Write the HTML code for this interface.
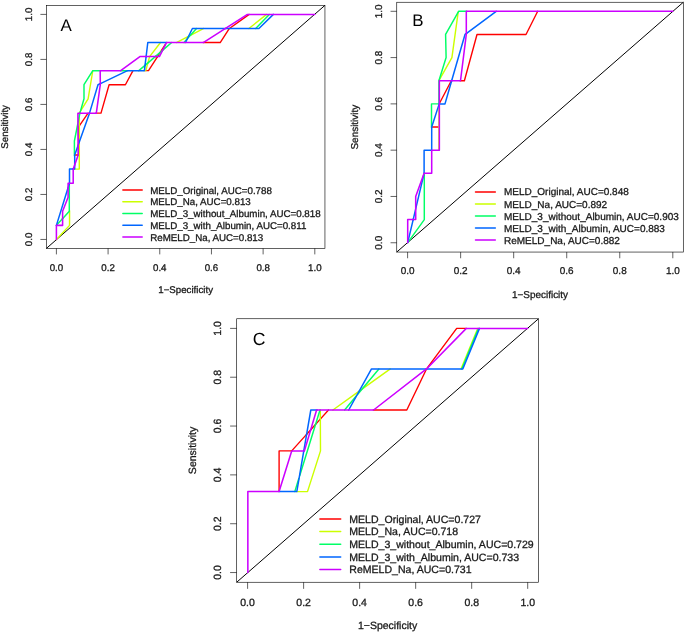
<!DOCTYPE html>
<html lang="en">
<head>
<meta charset="utf-8">
<title>ROC curves</title>
<style>
html,body{margin:0;padding:0;background:#fff;}
body{width:685px;height:634px;overflow:hidden;}
svg text{stroke:#1a1a1a;stroke-width:0.3px;}
svg text.big{stroke:none;}
svg{display:block;text-rendering:geometricPrecision;font-family:"Liberation Sans",sans-serif;}
</style>
</head>
<body>
<svg width="685" height="634" viewBox="0 0 685 634">
<rect width="685" height="634" fill="#fff"/>
<g font-size="9.7" fill="#1a1a1a">
<line x1="46.4" y1="248.4" x2="324.95" y2="5.35" stroke="#000" stroke-width="1"/>
<polyline points="74.7,155.06 78.5,155.06" fill="none" stroke="#FF0000" stroke-width="1.38" stroke-linejoin="round" stroke-linecap="round"/>
<polyline points="78.5,155.06 78.5,144.45" fill="none" stroke="#FF0000" stroke-width="1.38" stroke-linejoin="round" stroke-linecap="round"/>
<polyline points="78.5,144.26 78.5,126.92 79.44,125.58" fill="none" stroke="#FF0000" stroke-width="1.38" stroke-linejoin="round" stroke-linecap="round"/>
<polyline points="79.11,126.04 88.1,113.15" fill="none" stroke="#FF0000" stroke-width="1.38" stroke-linejoin="round" stroke-linecap="round"/>
<polyline points="95.88,113.15 101,113.15 109.1,84.73 125.4,84.73 133,70.66" fill="none" stroke="#FF0000" stroke-width="1.38" stroke-linejoin="round" stroke-linecap="round"/>
<polyline points="145.35,70.66 148.5,70.66 157.72,56.26" fill="none" stroke="#FF0000" stroke-width="1.38" stroke-linejoin="round" stroke-linecap="round"/>
<polyline points="157.28,56.94 160.13,52.48" fill="none" stroke="#FF0000" stroke-width="1.38" stroke-linejoin="round" stroke-linecap="round"/>
<polyline points="160.37,52.11 165.37,44.29" fill="none" stroke="#FF0000" stroke-width="1.38" stroke-linejoin="round" stroke-linecap="round"/>
<polyline points="203.07,42.53 220.2,42.53 229.4,28.47" fill="none" stroke="#FF0000" stroke-width="1.38" stroke-linejoin="round" stroke-linecap="round"/>
<polyline points="229.4,28.47 249.2,14.4" fill="none" stroke="#FF0000" stroke-width="1.38" stroke-linejoin="round" stroke-linecap="round"/>
<polyline points="56.4,239.45 69.55,225.38 69.55,210.79" fill="none" stroke="#CCFF00" stroke-width="1.42" stroke-linejoin="round" stroke-linecap="round"/>
<polyline points="74.15,169.12 79.3,169.12 79.3,142.23" fill="none" stroke="#CCFF00" stroke-width="1.42" stroke-linejoin="round" stroke-linecap="round"/>
<polyline points="79.3,141.79 79.3,117" fill="none" stroke="#CCFF00" stroke-width="1.42" stroke-linejoin="round" stroke-linecap="round"/>
<polyline points="79.3,115.3 79.3,113.15" fill="none" stroke="#CCFF00" stroke-width="1.42" stroke-linejoin="round" stroke-linecap="round"/>
<polyline points="79.3,113.15 80.29,111.54" fill="none" stroke="#CCFF00" stroke-width="1.42" stroke-linejoin="round" stroke-linecap="round"/>
<polyline points="80.64,110.96 88.1,98.79 92.78,70.75" fill="none" stroke="#CCFF00" stroke-width="1.42" stroke-linejoin="round" stroke-linecap="round"/>
<polyline points="143.9,70.66 145.8,70.66 147.97,62.64" fill="none" stroke="#CCFF00" stroke-width="1.42" stroke-linejoin="round" stroke-linecap="round"/>
<polyline points="147.82,63.19 149.6,56.6" fill="none" stroke="#CCFF00" stroke-width="1.42" stroke-linejoin="round" stroke-linecap="round"/>
<polyline points="149.6,56.6 160.5,42.53" fill="none" stroke="#CCFF00" stroke-width="1.42" stroke-linejoin="round" stroke-linecap="round"/>
<polyline points="176.4,42.53 188.91,36.11" fill="none" stroke="#CCFF00" stroke-width="1.42" stroke-linejoin="round" stroke-linecap="round"/>
<polyline points="190.4,35.34 203.8,28.47" fill="none" stroke="#CCFF00" stroke-width="1.42" stroke-linejoin="round" stroke-linecap="round"/>
<polyline points="248.9,28.47 266.6,14.4" fill="none" stroke="#CCFF00" stroke-width="1.42" stroke-linejoin="round" stroke-linecap="round"/>
<polyline points="56.4,225.38 62.87,218.33" fill="none" stroke="#00FF66" stroke-width="1.46" stroke-linejoin="round" stroke-linecap="round"/>
<polyline points="62.33,218.92 69.3,211.32 69.3,183.95" fill="none" stroke="#00FF66" stroke-width="1.46" stroke-linejoin="round" stroke-linecap="round"/>
<polyline points="74.4,155.83 74.4,140.99 77.81,123.75" fill="none" stroke="#00FF66" stroke-width="1.46" stroke-linejoin="round" stroke-linecap="round"/>
<polyline points="78.09,122.34 79.9,113.15" fill="none" stroke="#00FF66" stroke-width="1.46" stroke-linejoin="round" stroke-linecap="round"/>
<polyline points="79.9,113.15 84,98.79 84,84.73 92.8,70.66 100.66,70.66" fill="none" stroke="#00FF66" stroke-width="1.46" stroke-linejoin="round" stroke-linecap="round"/>
<polyline points="120.49,70.66 127.52,70.66" fill="none" stroke="#00FF66" stroke-width="1.46" stroke-linejoin="round" stroke-linecap="round"/>
<polyline points="138.8,70.66 145.35,65.07" fill="none" stroke="#00FF66" stroke-width="1.46" stroke-linejoin="round" stroke-linecap="round"/>
<polyline points="144.73,65.59 155.56,56.34" fill="none" stroke="#00FF66" stroke-width="1.46" stroke-linejoin="round" stroke-linecap="round"/>
<polyline points="154.94,56.86 162.55,50.35" fill="none" stroke="#00FF66" stroke-width="1.46" stroke-linejoin="round" stroke-linecap="round"/>
<polyline points="162.51,50.39 171.7,42.53" fill="none" stroke="#00FF66" stroke-width="1.46" stroke-linejoin="round" stroke-linecap="round"/>
<polyline points="184,42.53 187.06,39.08" fill="none" stroke="#00FF66" stroke-width="1.46" stroke-linejoin="round" stroke-linecap="round"/>
<polyline points="187.51,38.58 196.5,28.47" fill="none" stroke="#00FF66" stroke-width="1.46" stroke-linejoin="round" stroke-linecap="round"/>
<polyline points="255.7,28.47 269.3,14.4" fill="none" stroke="#00FF66" stroke-width="1.46" stroke-linejoin="round" stroke-linecap="round"/>
<polyline points="56.4,225.38 68.06,187.81" fill="none" stroke="#0066FF" stroke-width="1.5" stroke-linejoin="round" stroke-linecap="round"/>
<polyline points="68.2,187.38 69.5,183.19" fill="none" stroke="#0066FF" stroke-width="1.5" stroke-linejoin="round" stroke-linecap="round"/>
<polyline points="69.5,183.19 69.5,169.12 73.62,169.12" fill="none" stroke="#0066FF" stroke-width="1.5" stroke-linejoin="round" stroke-linecap="round"/>
<polyline points="72.81,169.12 74.7,169.12 74.7,165.01" fill="none" stroke="#0066FF" stroke-width="1.5" stroke-linejoin="round" stroke-linecap="round"/>
<polyline points="74.7,164.84 74.7,155.06 78.08,145.5" fill="none" stroke="#0066FF" stroke-width="1.5" stroke-linejoin="round" stroke-linecap="round"/>
<polyline points="78.14,145.31 89.5,113.15" fill="none" stroke="#0066FF" stroke-width="1.5" stroke-linejoin="round" stroke-linecap="round"/>
<polyline points="89.5,113.15 98,84.73 100.61,83.48" fill="none" stroke="#0066FF" stroke-width="1.5" stroke-linejoin="round" stroke-linecap="round"/>
<polyline points="99.89,83.83 127.5,70.66 144.4,70.66 146.15,56.2" fill="none" stroke="#0066FF" stroke-width="1.5" stroke-linejoin="round" stroke-linecap="round"/>
<polyline points="146.05,57 147.8,42.53 166.93,42.53" fill="none" stroke="#0066FF" stroke-width="1.5" stroke-linejoin="round" stroke-linecap="round"/>
<polyline points="185.5,42.53 192.4,28.47 225.55,28.47" fill="none" stroke="#0066FF" stroke-width="1.5" stroke-linejoin="round" stroke-linecap="round"/>
<polyline points="225.25,28.47 258.9,28.47 273.4,14.4" fill="none" stroke="#0066FF" stroke-width="1.5" stroke-linejoin="round" stroke-linecap="round"/>
<polyline points="56.4,239.45 56.4,225.38 62.6,225.38 62.6,211.32 68.1,197.25 68.1,183.19 73.2,183.19 73.2,169.12 78.2,155.06 77.9,113.15 96.3,113.15 100.3,84.73 100.2,70.66 120.7,70.66 139.9,56.6 159.4,56.6 166.5,42.53 203.3,42.53 247.4,14.4 314.8,14.4" fill="none" stroke="#CC00FF" stroke-width="1.54" stroke-linejoin="round" stroke-linecap="round"/>
<rect x="46.4" y="5.35" width="278.55" height="243.05" fill="none" stroke="#000" stroke-width="0.62"/>
<path d="M56.4,248.4v6M46.4,239.45h-6M108.08,248.4v6M46.4,194.44h-6M159.76,248.4v6M46.4,149.43h-6M211.44,248.4v6M46.4,104.42h-6M263.12,248.4v6M46.4,59.41h-6M314.8,248.4v6M46.4,14.4h-6" fill="none" stroke="#000" stroke-width="0.62"/>
<text x="56.4" y="270.5" text-anchor="middle">0.0</text>
<text transform="translate(31.97,239.45) rotate(-90)" text-anchor="middle">0.0</text>
<text x="108.08" y="270.5" text-anchor="middle">0.2</text>
<text transform="translate(31.97,194.44) rotate(-90)" text-anchor="middle">0.2</text>
<text x="159.76" y="270.5" text-anchor="middle">0.4</text>
<text transform="translate(31.97,149.43) rotate(-90)" text-anchor="middle">0.4</text>
<text x="211.44" y="270.5" text-anchor="middle">0.6</text>
<text transform="translate(31.97,104.42) rotate(-90)" text-anchor="middle">0.6</text>
<text x="263.12" y="270.5" text-anchor="middle">0.8</text>
<text transform="translate(31.97,59.41) rotate(-90)" text-anchor="middle">0.8</text>
<text x="314.8" y="270.5" text-anchor="middle">1.0</text>
<text transform="translate(31.97,14.4) rotate(-90)" text-anchor="middle">1.0</text>
<text x="185.67" y="293.3" text-anchor="middle">1−Specificity</text>
<text transform="translate(8.4,126.88) rotate(-90)" text-anchor="middle">Sensitivity</text>
<line x1="122.9" y1="190.1" x2="142.2" y2="190.1" stroke="#FF0000" stroke-width="1.5" stroke-linecap="round"/>
<text x="150.2" y="193.57" font-size="9.75">MELD_Original, AUC=0.788</text>
<line x1="122.9" y1="201.85" x2="142.2" y2="201.85" stroke="#CCFF00" stroke-width="1.5" stroke-linecap="round"/>
<text x="150.2" y="205.32" font-size="9.75">MELD_Na, AUC=0.813</text>
<line x1="122.9" y1="213.6" x2="142.2" y2="213.6" stroke="#00FF66" stroke-width="1.5" stroke-linecap="round"/>
<text x="150.2" y="217.07" font-size="9.75">MELD_3_without_Albumin, AUC=0.818</text>
<line x1="122.9" y1="225.35" x2="142.2" y2="225.35" stroke="#0066FF" stroke-width="1.5" stroke-linecap="round"/>
<text x="150.2" y="228.82" font-size="9.75">MELD_3_with_Albumin, AUC=0.811</text>
<line x1="122.9" y1="237.1" x2="142.2" y2="237.1" stroke="#CC00FF" stroke-width="1.5" stroke-linecap="round"/>
<text x="150.2" y="240.57" font-size="9.75">ReMELD_Na, AUC=0.813</text>
<text x="66.2" y="31.1" font-size="16.9" text-anchor="middle" fill="#000" class="big">A</text>
</g>
<g font-size="9.95" fill="#1a1a1a">
<line x1="396.75" y1="252.05" x2="683.3" y2="2.25" stroke="#000" stroke-width="1"/>
<polyline points="431.7,127.03 439.2,127.03" fill="none" stroke="#FF0000" stroke-width="1.38" stroke-linejoin="round" stroke-linecap="round"/>
<polyline points="439.24,103.8 451.3,80.74" fill="none" stroke="#FF0000" stroke-width="1.38" stroke-linejoin="round" stroke-linecap="round"/>
<polyline points="460.04,80.74 464.4,80.74 477,34.45 526,34.45 537.7,11.3" fill="none" stroke="#FF0000" stroke-width="1.38" stroke-linejoin="round" stroke-linecap="round"/>
<polyline points="438.9,150.17 438.9,105.06" fill="none" stroke="#CCFF00" stroke-width="1.42" stroke-linejoin="round" stroke-linecap="round"/>
<polyline points="439.19,80.22 451.9,57.59 458.18,12.14" fill="none" stroke="#CCFF00" stroke-width="1.42" stroke-linejoin="round" stroke-linecap="round"/>
<polyline points="407.76,242.67 424.3,219.6 424.3,173" fill="none" stroke="#00FF66" stroke-width="1.46" stroke-linejoin="round" stroke-linecap="round"/>
<polyline points="431.5,127.43 431.5,103.88 438.9,103.88" fill="none" stroke="#00FF66" stroke-width="1.46" stroke-linejoin="round" stroke-linecap="round"/>
<polyline points="438.9,103.88 438.9,80.74 446.1,57.59 445.6,34.45 458.6,11.3 466.75,11.3" fill="none" stroke="#00FF66" stroke-width="1.46" stroke-linejoin="round" stroke-linecap="round"/>
<polyline points="407.84,242.17 413.3,219.05" fill="none" stroke="#0066FF" stroke-width="1.5" stroke-linejoin="round" stroke-linecap="round"/>
<polyline points="413.06,220.08 415.59,209.34" fill="none" stroke="#0066FF" stroke-width="1.5" stroke-linejoin="round" stroke-linecap="round"/>
<polyline points="415.81,208.42 423.68,175.11" fill="none" stroke="#0066FF" stroke-width="1.5" stroke-linejoin="round" stroke-linecap="round"/>
<polyline points="424.1,173.31 424.1,150.17 431.7,150.17" fill="none" stroke="#0066FF" stroke-width="1.5" stroke-linejoin="round" stroke-linecap="round"/>
<polyline points="431.7,150.17 431.7,127.03 439.2,103.88" fill="none" stroke="#0066FF" stroke-width="1.5" stroke-linejoin="round" stroke-linecap="round"/>
<polyline points="439.2,103.88 445,103.88 451.8,80.27" fill="none" stroke="#0066FF" stroke-width="1.5" stroke-linejoin="round" stroke-linecap="round"/>
<polyline points="451.51,81.28 465,34.45 466.72,33.17" fill="none" stroke="#0066FF" stroke-width="1.5" stroke-linejoin="round" stroke-linecap="round"/>
<polyline points="465.88,33.79 496.2,11.3" fill="none" stroke="#0066FF" stroke-width="1.5" stroke-linejoin="round" stroke-linecap="round"/>
<polyline points="407.7,242.75 407.7,219.6 415.7,219.6 415.7,196.46 424.1,173.31 431.7,173.31 431.7,150.17 439.35,150.17 439.35,80.74 460.5,80.74 466.3,34.45 466.3,11.3 672.8,11.3" fill="none" stroke="#CC00FF" stroke-width="1.54" stroke-linejoin="round" stroke-linecap="round"/>
<rect x="396.75" y="2.25" width="286.55" height="249.8" fill="none" stroke="#000" stroke-width="0.62"/>
<path d="M407.6,252.05v6.2M396.75,242.75h-6.2M460.64,252.05v6.2M396.75,196.46h-6.2M513.68,252.05v6.2M396.75,150.17h-6.2M566.72,252.05v6.2M396.75,103.88h-6.2M619.76,252.05v6.2M396.75,57.59h-6.2M672.8,252.05v6.2M396.75,11.3h-6.2" fill="none" stroke="#000" stroke-width="0.62"/>
<text x="407.6" y="274.1" text-anchor="middle">0.0</text>
<text transform="translate(382.26,242.75) rotate(-90)" text-anchor="middle">0.0</text>
<text x="460.64" y="274.1" text-anchor="middle">0.2</text>
<text transform="translate(382.26,196.46) rotate(-90)" text-anchor="middle">0.2</text>
<text x="513.68" y="274.1" text-anchor="middle">0.4</text>
<text transform="translate(382.26,150.17) rotate(-90)" text-anchor="middle">0.4</text>
<text x="566.72" y="274.1" text-anchor="middle">0.6</text>
<text transform="translate(382.26,103.88) rotate(-90)" text-anchor="middle">0.6</text>
<text x="619.76" y="274.1" text-anchor="middle">0.8</text>
<text transform="translate(382.26,57.59) rotate(-90)" text-anchor="middle">0.8</text>
<text x="672.8" y="274.1" text-anchor="middle">1.0</text>
<text transform="translate(382.26,11.3) rotate(-90)" text-anchor="middle">1.0</text>
<text x="540.02" y="297.6" text-anchor="middle">1−Specificity</text>
<text transform="translate(358,127.15) rotate(-90)" text-anchor="middle">Sensitivity</text>
<line x1="475.5" y1="191.9" x2="495.3" y2="191.9" stroke="#FF0000" stroke-width="1.5" stroke-linecap="round"/>
<text x="504" y="195.46" font-size="10">MELD_Original, AUC=0.848</text>
<line x1="475.5" y1="203.95" x2="495.3" y2="203.95" stroke="#CCFF00" stroke-width="1.5" stroke-linecap="round"/>
<text x="504" y="207.51" font-size="10">MELD_Na, AUC=0.892</text>
<line x1="475.5" y1="216" x2="495.3" y2="216" stroke="#00FF66" stroke-width="1.5" stroke-linecap="round"/>
<text x="504" y="219.56" font-size="10">MELD_3_without_Albumin, AUC=0.903</text>
<line x1="475.5" y1="228.05" x2="495.3" y2="228.05" stroke="#0066FF" stroke-width="1.5" stroke-linecap="round"/>
<text x="504" y="231.61" font-size="10">MELD_3_with_Albumin, AUC=0.883</text>
<line x1="475.5" y1="240.1" x2="495.3" y2="240.1" stroke="#CC00FF" stroke-width="1.5" stroke-linecap="round"/>
<text x="504" y="243.66" font-size="10">ReMELD_Na, AUC=0.882</text>
<text x="418" y="26.3" font-size="16.9" text-anchor="middle" fill="#000" class="big">B</text>
</g>
<g font-size="10.5" fill="#1a1a1a">
<line x1="236.7" y1="582.25" x2="538.5" y2="318.75" stroke="#000" stroke-width="1"/>
<polyline points="279.1,491.25 279.1,450.9 291.7,450.9" fill="none" stroke="#FF0000" stroke-width="1.38" stroke-linejoin="round" stroke-linecap="round"/>
<polyline points="291.7,450.9 306.79,434.13" fill="none" stroke="#FF0000" stroke-width="1.38" stroke-linejoin="round" stroke-linecap="round"/>
<polyline points="306.42,434.54 310.79,429.69" fill="none" stroke="#FF0000" stroke-width="1.38" stroke-linejoin="round" stroke-linecap="round"/>
<polyline points="310.58,429.92 315.61,424.32" fill="none" stroke="#FF0000" stroke-width="1.38" stroke-linejoin="round" stroke-linecap="round"/>
<polyline points="315.58,424.36 320.61,418.77" fill="none" stroke="#FF0000" stroke-width="1.38" stroke-linejoin="round" stroke-linecap="round"/>
<polyline points="320.07,419.37 328.5,410" fill="none" stroke="#FF0000" stroke-width="1.38" stroke-linejoin="round" stroke-linecap="round"/>
<polyline points="373.23,410 406.8,410 426.5,368.95" fill="none" stroke="#FF0000" stroke-width="1.38" stroke-linejoin="round" stroke-linecap="round"/>
<polyline points="427.3,367.87 456.7,328.4 466.57,328.4" fill="none" stroke="#FF0000" stroke-width="1.38" stroke-linejoin="round" stroke-linecap="round"/>
<polyline points="296.37,491.6 307.5,491.6 320.5,450.9 320.3,410" fill="none" stroke="#CCFF00" stroke-width="1.42" stroke-linejoin="round" stroke-linecap="round"/>
<polyline points="332.9,410 359.19,391.2" fill="none" stroke="#CCFF00" stroke-width="1.42" stroke-linejoin="round" stroke-linecap="round"/>
<polyline points="359.14,391.23 361.62,389.46" fill="none" stroke="#CCFF00" stroke-width="1.42" stroke-linejoin="round" stroke-linecap="round"/>
<polyline points="362.39,388.91 390.3,368.95" fill="none" stroke="#CCFF00" stroke-width="1.42" stroke-linejoin="round" stroke-linecap="round"/>
<polyline points="461,368.95 477.7,328.4" fill="none" stroke="#CCFF00" stroke-width="1.42" stroke-linejoin="round" stroke-linecap="round"/>
<polyline points="294.8,491.6 298.82,478.57" fill="none" stroke="#00FF66" stroke-width="1.46" stroke-linejoin="round" stroke-linecap="round"/>
<polyline points="299.77,475.52 320,410" fill="none" stroke="#00FF66" stroke-width="1.46" stroke-linejoin="round" stroke-linecap="round"/>
<polyline points="344.6,410 356.24,396.07" fill="none" stroke="#00FF66" stroke-width="1.46" stroke-linejoin="round" stroke-linecap="round"/>
<polyline points="357.33,394.77 378.9,368.95" fill="none" stroke="#00FF66" stroke-width="1.46" stroke-linejoin="round" stroke-linecap="round"/>
<polyline points="461.8,368.95 478.5,328.4" fill="none" stroke="#00FF66" stroke-width="1.46" stroke-linejoin="round" stroke-linecap="round"/>
<polyline points="278.67,491.6 296.8,491.6 303.87,450.4" fill="none" stroke="#0066FF" stroke-width="1.5" stroke-linejoin="round" stroke-linecap="round"/>
<polyline points="303.69,451.44 310.8,410 317.19,410" fill="none" stroke="#0066FF" stroke-width="1.5" stroke-linejoin="round" stroke-linecap="round"/>
<polyline points="348.7,410 371.5,368.95 426.78,368.95" fill="none" stroke="#0066FF" stroke-width="1.5" stroke-linejoin="round" stroke-linecap="round"/>
<polyline points="426.23,368.95 462.8,368.95 479.5,328.4" fill="none" stroke="#0066FF" stroke-width="1.5" stroke-linejoin="round" stroke-linecap="round"/>
<polyline points="247.85,572.55 247.85,491.6 279.1,491.6 291.7,450.9 304.4,450.9 316.6,410 373.6,410 426.5,368.95 466.3,328.4 527.7,328.4" fill="none" stroke="#CC00FF" stroke-width="1.54" stroke-linejoin="round" stroke-linecap="round"/>
<rect x="236.7" y="318.75" width="301.8" height="263.5" fill="none" stroke="#000" stroke-width="0.62"/>
<path d="M247.6,582.25v6.6M236.7,572.55h-6.6M303.62,582.25v6.6M236.7,523.72h-6.6M359.64,582.25v6.6M236.7,474.89h-6.6M415.66,582.25v6.6M236.7,426.06h-6.6M471.68,582.25v6.6M236.7,377.23h-6.6M527.7,582.25v6.6M236.7,328.4h-6.6" fill="none" stroke="#000" stroke-width="0.62"/>
<text x="247.6" y="605.6" text-anchor="middle">0.0</text>
<text transform="translate(221.36,572.55) rotate(-90)" text-anchor="middle">0.0</text>
<text x="303.62" y="605.6" text-anchor="middle">0.2</text>
<text transform="translate(221.36,523.72) rotate(-90)" text-anchor="middle">0.2</text>
<text x="359.64" y="605.6" text-anchor="middle">0.4</text>
<text transform="translate(221.36,474.89) rotate(-90)" text-anchor="middle">0.4</text>
<text x="415.66" y="605.6" text-anchor="middle">0.6</text>
<text transform="translate(221.36,426.06) rotate(-90)" text-anchor="middle">0.6</text>
<text x="471.68" y="605.6" text-anchor="middle">0.8</text>
<text transform="translate(221.36,377.23) rotate(-90)" text-anchor="middle">0.8</text>
<text x="527.7" y="605.6" text-anchor="middle">1.0</text>
<text transform="translate(221.36,328.4) rotate(-90)" text-anchor="middle">1.0</text>
<text x="387.6" y="629" text-anchor="middle">1−Specificity</text>
<text transform="translate(195.9,450.5) rotate(-90)" text-anchor="middle">Sensitivity</text>
<line x1="319.9" y1="518.9" x2="340.7" y2="518.9" stroke="#FF0000" stroke-width="1.5" stroke-linecap="round"/>
<text x="349.3" y="522.66" font-size="10.55">MELD_Original, AUC=0.727</text>
<line x1="319.9" y1="531.58" x2="340.7" y2="531.58" stroke="#CCFF00" stroke-width="1.5" stroke-linecap="round"/>
<text x="349.3" y="535.34" font-size="10.55">MELD_Na, AUC=0.718</text>
<line x1="319.9" y1="544.25" x2="340.7" y2="544.25" stroke="#00FF66" stroke-width="1.5" stroke-linecap="round"/>
<text x="349.3" y="548.01" font-size="10.55">MELD_3_without_Albumin, AUC=0.729</text>
<line x1="319.9" y1="556.93" x2="340.7" y2="556.93" stroke="#0066FF" stroke-width="1.5" stroke-linecap="round"/>
<text x="349.3" y="560.69" font-size="10.55">MELD_3_with_Albumin, AUC=0.733</text>
<line x1="319.9" y1="569.6" x2="340.7" y2="569.6" stroke="#CC00FF" stroke-width="1.5" stroke-linecap="round"/>
<text x="349.3" y="573.36" font-size="10.55">ReMELD_Na, AUC=0.731</text>
<text x="259.2" y="344.8" font-size="17.6" text-anchor="middle" fill="#000" class="big">C</text>
</g>
</svg>
</body>
</html>
